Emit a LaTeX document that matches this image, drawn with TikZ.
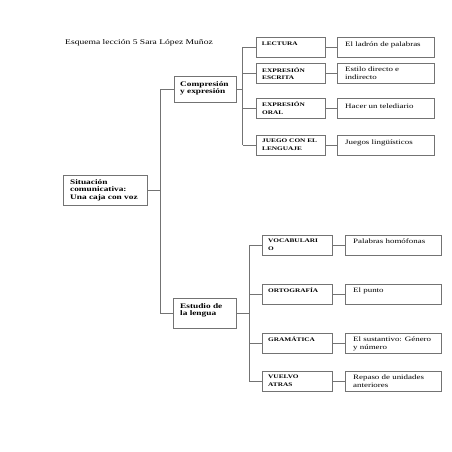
\documentclass[tikz,border=0pt]{standalone}
\usepackage{fontspec}
\setmainfont{Liberation Serif}[FakeStretch=1.33]
\usetikzlibrary{calc}
\tikzset{
  box/.style={draw=black!55, line width=0.8pt, inner sep=0pt, anchor=north west, fill=white},
  ln/.style={draw=black!55, line width=0.8pt},
  lbl/.style={font=\fontsize{5.5}{7.3}\selectfont\bfseries, inner sep=0pt, anchor=north west, align=left},
  ans/.style={font=\fontsize{6.7}{8}\selectfont, inner sep=0pt, anchor=north west, align=left},
  big/.style={font=\fontsize{7}{7.5}\selectfont\bfseries, inner sep=0pt, anchor=north west, align=left},
  ttl/.style={font=\fontsize{7.2}{8}\selectfont, inner sep=0pt, anchor=base west},
}
\newcommand\mkbox[8]{%
  \node[box, minimum width=#4pt, minimum height=#5pt] (#1) at (#2,#3) {};
  \node[#6] (#1t) at ($(#1.north west)+(#7)$) {#8};
}
\begin{document}
\begin{tikzpicture}[x=1pt,y=-1pt]
\useasboundingbox[fill=white] (0,0) rectangle (452,452);
\node[ttl] (title) at (65,45) {Esquema lección 5 Sara López Muñoz};

% main boxes
\mkbox{sit}{63}{175}{84}{30}{big}{7,4}{Situación\\comunicativa:\\Una caja con voz}
\mkbox{comp}{174}{76}{62}{26}{big}{6,5}{Compresión\\y expresión}
\mkbox{est}{173}{298}{63}{30}{big}{7,5}{Estudio de\\la lengua}

% top group
\mkbox{lect}{255.7}{37.5}{69.3}{19.2}{lbl}{6,4}{LECTURA}
\mkbox{lectA}{337}{37.5}{97}{19.2}{ans}{8,4.5}{El ladrón de palabras}
\mkbox{escr}{256}{63.3}{69}{20}{lbl}{6,4}{EXPRESIÓN\\ESCRITA}
\mkbox{escrA}{337}{63.3}{97}{20}{ans}{8,3.5}{Estilo directo e\\indirecto}
\mkbox{oral}{256}{98}{69}{20}{lbl}{6,4}{EXPRESIÓN\\ORAL}
\mkbox{oralA}{337}{98}{97}{20}{ans}{8,6}{Hacer un telediario}
\mkbox{jueg}{256}{135}{69}{20}{lbl}{6,4}{JUEGO CON EL\\LENGUAJE}
\mkbox{juegA}{337}{135}{97}{20}{ans}{8,5}{Juegos lingüísticos}

% bottom group
\mkbox{voc}{262}{235}{70}{20}{lbl}{6,4}{VOCABULARI\\O}
\mkbox{vocA}{345}{235}{96}{20}{ans}{8,4}{Palabras homófonas}
\mkbox{orto}{262}{284}{70}{20}{lbl}{6,4}{ORTOGRAFÍA}
\mkbox{ortoA}{345}{284}{96}{20}{ans}{8,4}{El punto}
\mkbox{gram}{262}{333}{70}{19.5}{lbl}{6,4}{GRAMÁTICA}
\mkbox{gramA}{345}{333}{96}{19.5}{ans}{8,4}{El sustantivo: Género\\y número}
\mkbox{vuel}{262}{371}{70}{20}{lbl}{6,4}{VUELVO\\ATRAS}
\mkbox{vuelA}{345}{371}{96}{20}{ans}{8,4}{Repaso de unidades\\anteriores}

% spine coordinates
\coordinate (sp) at (160,0);
\coordinate (b1) at (242.7,0);
\coordinate (b2) at (249.3,0);

% connectors
\draw[ln] (sit.east) -- (sit.east -| sp);
\draw[ln] (comp.west -| sp) -- (est.west -| sp);
\draw[ln] (comp.west) -- (comp.west -| sp);
\draw[ln] (est.west) -- (est.west -| sp);

\draw[ln] (comp.east) -- (comp.east -| b1);
\draw[ln] (lect.west -| b1) -- (jueg.west -| b1);
\foreach \n in {lect,escr,oral,jueg}{
  \draw[ln] (\n.west -| b1) -- (\n.west);
  \draw[ln] (\n.east) -- (\n A.west);
}
\draw[ln] (est.east) -- (est.east -| b2);
\draw[ln] (voc.west -| b2) -- (vuel.west -| b2);
\foreach \n in {voc,orto,gram,vuel}{
  \draw[ln] (\n.west -| b2) -- (\n.west);
  \draw[ln] (\n.east) -- (\n A.west);
}
\end{tikzpicture}
\end{document}
